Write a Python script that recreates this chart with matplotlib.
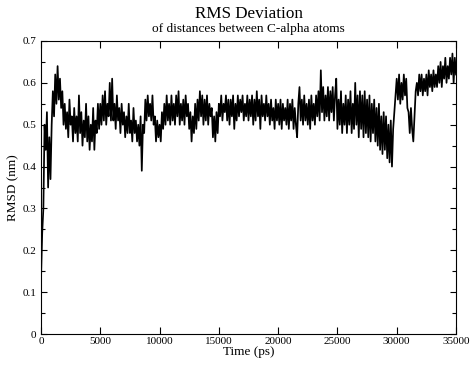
import numpy as np
import matplotlib
matplotlib.use("Agg")
import matplotlib.pyplot as plt
from matplotlib.ticker import MultipleLocator, FormatStrFormatter

time_step = 100
rmsd = [
    0.13, 0.24, 0.30, 0.50, 0.44, 0.53, 0.35, 0.47, 0.37, 0.50,
    0.58, 0.52, 0.62, 0.55, 0.64, 0.56, 0.61, 0.54, 0.58, 0.50,
    0.55, 0.49, 0.53, 0.47, 0.56, 0.50, 0.52, 0.46, 0.54, 0.48,
    0.52, 0.46, 0.57, 0.48, 0.53, 0.45, 0.51, 0.47, 0.55, 0.46,
    0.52, 0.44, 0.50, 0.46, 0.54, 0.44, 0.51, 0.48, 0.55, 0.49,
    0.55, 0.50, 0.57, 0.51, 0.58, 0.50, 0.55, 0.52, 0.60, 0.51,
    0.61, 0.51, 0.55, 0.49, 0.57, 0.51, 0.54, 0.48, 0.55, 0.50,
    0.53, 0.47, 0.52, 0.48, 0.55, 0.48, 0.51, 0.46, 0.54, 0.48,
    0.51, 0.46, 0.50, 0.45, 0.52, 0.39, 0.50, 0.48, 0.56, 0.51,
    0.57, 0.52, 0.55, 0.51, 0.57, 0.50, 0.52, 0.46, 0.51, 0.47,
    0.50, 0.46, 0.53, 0.49, 0.55, 0.50, 0.57, 0.51, 0.55, 0.50,
    0.57, 0.51, 0.55, 0.50, 0.57, 0.52, 0.58, 0.50, 0.55, 0.51,
    0.56, 0.50, 0.57, 0.52, 0.55, 0.49, 0.53, 0.46, 0.52, 0.48,
    0.55, 0.49, 0.56, 0.51, 0.58, 0.52, 0.57, 0.50, 0.56, 0.51,
    0.57, 0.50, 0.55, 0.52, 0.54, 0.47, 0.52, 0.46, 0.53, 0.48,
    0.55, 0.52, 0.57, 0.51, 0.55, 0.53, 0.57, 0.51, 0.56, 0.50,
    0.56, 0.52, 0.57, 0.49, 0.55, 0.51, 0.57, 0.52, 0.56, 0.53,
    0.57, 0.51, 0.55, 0.52, 0.57, 0.51, 0.56, 0.52, 0.57, 0.50,
    0.56, 0.51, 0.58, 0.52, 0.56, 0.49, 0.57, 0.52, 0.55, 0.51,
    0.57, 0.52, 0.55, 0.50, 0.56, 0.51, 0.54, 0.49, 0.56, 0.51,
    0.55, 0.50, 0.56, 0.49, 0.55, 0.51, 0.54, 0.50, 0.56, 0.49,
    0.55, 0.51, 0.56, 0.49, 0.54, 0.50, 0.47, 0.55, 0.59, 0.51,
    0.56, 0.50, 0.57, 0.51, 0.55, 0.50, 0.56, 0.49, 0.57, 0.51,
    0.55, 0.50, 0.57, 0.52, 0.58, 0.51, 0.63, 0.53, 0.59, 0.51,
    0.57, 0.52, 0.59, 0.51, 0.58, 0.53, 0.59, 0.51, 0.57, 0.61,
    0.49, 0.56, 0.50, 0.58, 0.48, 0.55, 0.50, 0.57, 0.48, 0.56,
    0.50, 0.58, 0.48, 0.55, 0.49, 0.60, 0.50, 0.57, 0.47, 0.58,
    0.49, 0.57, 0.47, 0.58, 0.48, 0.56, 0.47, 0.57, 0.46, 0.55,
    0.48, 0.56, 0.46, 0.54, 0.45, 0.55, 0.44, 0.52, 0.43, 0.53,
    0.44, 0.52, 0.42, 0.50, 0.41, 0.51, 0.40, 0.49, 0.53, 0.57,
    0.61, 0.56, 0.62, 0.55, 0.60, 0.56, 0.62, 0.57, 0.61, 0.54,
    0.53, 0.48, 0.54, 0.49, 0.46, 0.52, 0.58, 0.60, 0.57, 0.62,
    0.58, 0.62, 0.57, 0.61, 0.58, 0.62, 0.57, 0.63, 0.59, 0.62,
    0.58, 0.63, 0.59, 0.62, 0.59, 0.64, 0.60, 0.65, 0.59, 0.64,
    0.61, 0.66, 0.60, 0.64, 0.61, 0.66, 0.62, 0.67, 0.60, 0.66,
    0.62,
]
time_ps = np.arange(len(rmsd)) * time_step

plt.rcParams['font.family'] = ['Liberation Serif', 'DejaVu Serif']

fig = plt.figure(figsize=(4.74, 3.66), dpi=100)
ax = fig.add_axes([41 / 474, 32 / 366, 415 / 474, 293 / 366])

ax.plot(time_ps, rmsd, color='black', linewidth=1.25)

ax.set_xlim(0, 35000)
ax.set_ylim(0, 0.7)
ax.xaxis.set_major_locator(MultipleLocator(5000))
ax.yaxis.set_major_locator(MultipleLocator(0.1))
ax.yaxis.set_minor_locator(MultipleLocator(0.05))
ax.yaxis.set_major_formatter(FormatStrFormatter('%g'))

ax.tick_params(which='both', direction='in', top=True, right=True,
               labelsize=8, width=0.8)
ax.tick_params(axis='x', which='major', length=5, pad=2)
ax.tick_params(axis='y', which='major', length=4, pad=3.5)
ax.tick_params(axis='y', which='minor', length=3)
for s in ax.spines.values():
    s.set_linewidth(0.8)

ax.set_xlabel('Time (ps)', fontsize=9.5, labelpad=0)
ax.set_ylabel('RMSD (nm)', fontsize=9.5, labelpad=2)

fig.text(0.5245, 1 - 17.5 / 366, 'RMS Deviation', ha='center',
         va='baseline', fontsize=12.3)
fig.text(0.5245, 1 - 32 / 366, 'of distances between C-alpha atoms',
         ha='center', va='baseline', fontsize=9.6)

fig.savefig('out.png', dpi=100)
